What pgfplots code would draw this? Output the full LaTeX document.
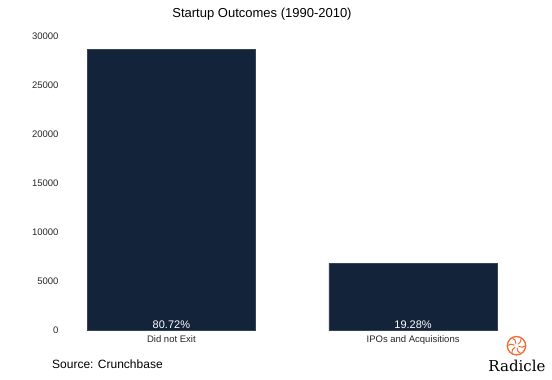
\documentclass[border=0pt]{standalone}
\usepackage{pgfplots}
\pgfplotsset{compat=1.18}
\usepackage{fontspec}
\setmainfont{Liberation Sans}
\newfontfamily\logofont{DejaVu Serif}
\definecolor{barnavy}{HTML}{12233A}
\definecolor{logoorange}{HTML}{F26A2E}
\begin{document}
\begin{tikzpicture}[x=1pt,y=1pt]
\begin{axis}[
  scale only axis,
  width=460.5pt, height=294.7pt,
  at={(0,0)}, anchor=south west,
  xmin=-0.4526, xmax=1.4526,
  ymin=0, ymax=30000,
  axis line style={draw=none},
  major tick length=0pt,
  xtick=data,
  xticklabels={Did not Exit, IPOs and Acquisitions},
  ytick={0,5000,...,30000},
  scaled y ticks=false,
  /pgf/number format/assume math mode=true,
  yticklabel={\pgfmathprintnumber[fixed,1000 sep={}]{\tick}},
  tick label style={font=\fontsize{9.5}{11}\selectfont, text=black!85},
  yticklabel style={xshift=0pt},
  xticklabel style={yshift=-1pt},
  ybar, bar width=168.5pt,
  clip=false,
]
\addplot[fill=barnavy, draw=barnavy!85!white, line width=0.6pt] coordinates {(0,28650) (1,6850)};
\node[above, text=white, font=\fontsize{11}{12}\selectfont, inner sep=1.5pt] at (axis cs:0,0) {80.72\%};
\node[above, text=white, font=\fontsize{11}{12}\selectfont, inner sep=1.5pt] at (axis cs:1,0) {19.28\%};
\end{axis}
% title, source note and logo, placed relative to the axis box
\node[font=\fontsize{13}{15}\selectfont] at (200pt,316.7pt) {Startup Outcomes (1990-2010)};
\node[anchor=west, font=\fontsize{12}{14}\selectfont, inner sep=0pt] at (-10pt,-33.3pt) {Source: Crunchbase};
\begin{scope}[shift={(454.5pt,-15pt)}, logoorange, line width=1.3pt]
  \draw (0,0) circle (9.2pt);
  \foreach \a in {0,60,...,300}{
    \draw[rotate=\a, line width=1pt] (1.5pt,1.5pt) .. controls (4pt,3pt) and (5pt,5pt) .. (4.5pt,7pt);
  }
\end{scope}
\node[font=\logofont\fontsize{15}{17}\selectfont, inner sep=0pt] at (455pt,-35.3pt) {Radicle};
\path[use as bounding box] (-62pt,-49.3pt) rectangle (490pt,330.7pt);
\end{tikzpicture}
\end{document}
